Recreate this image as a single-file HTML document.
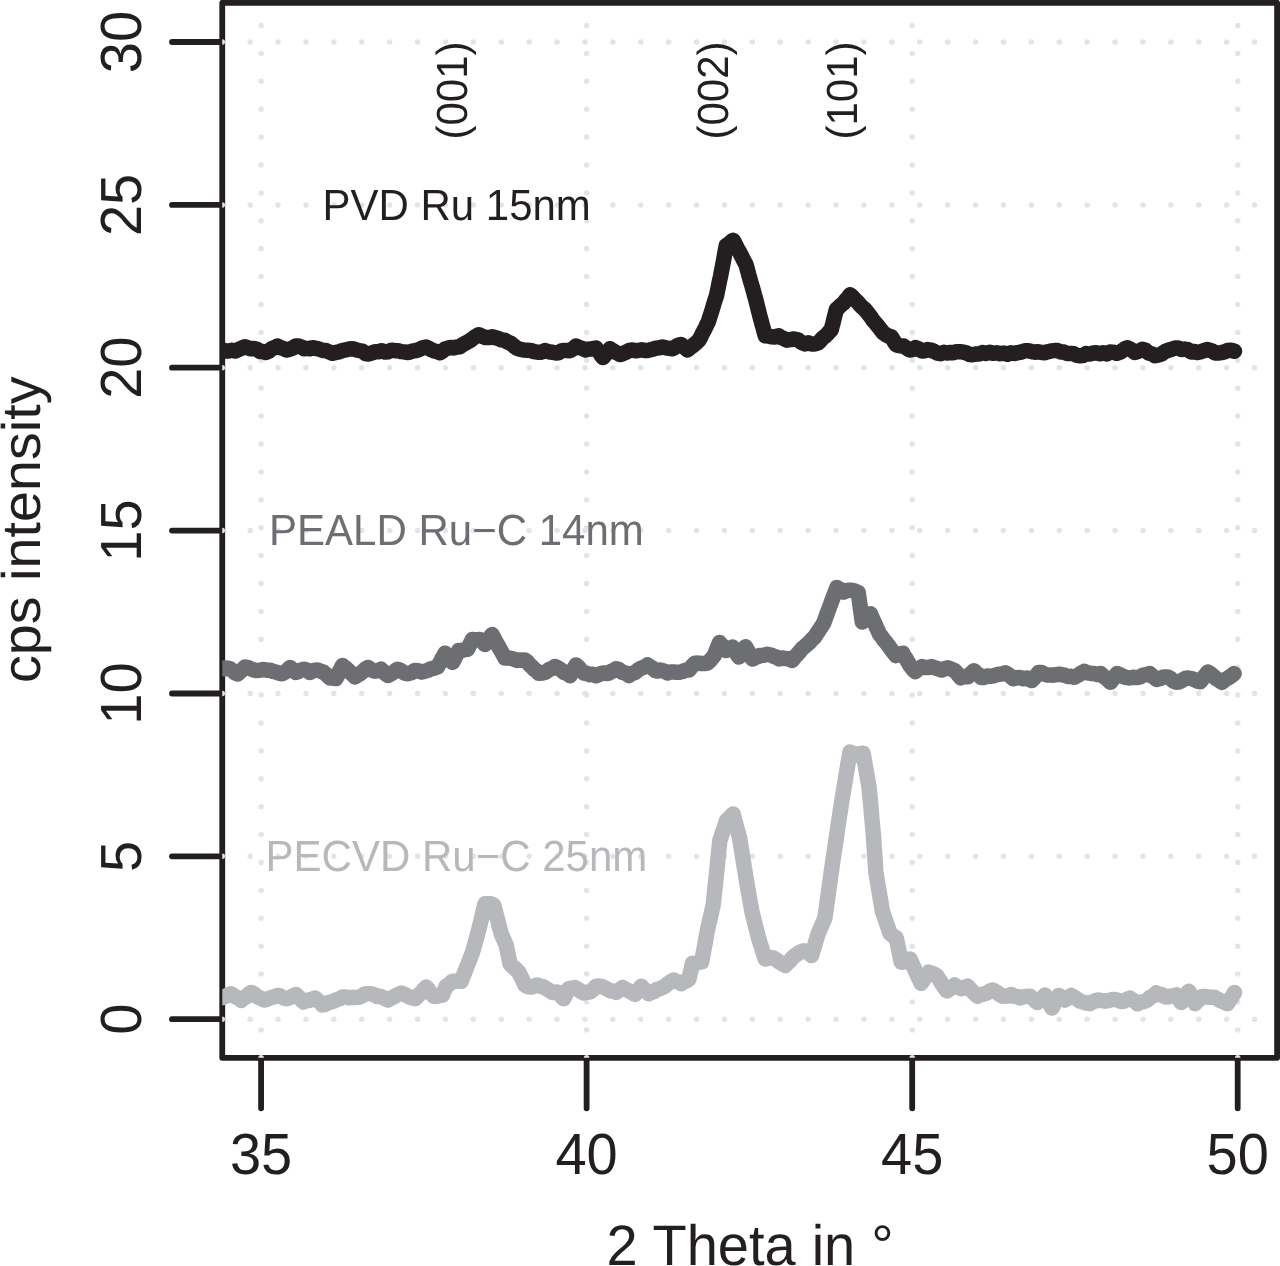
<!DOCTYPE html>
<html lang="en"><head><meta charset="utf-8"><title>XRD 2 Theta plot</title>
<style>
html,body{margin:0;padding:0;background:#fff;}
svg{display:block;}
text{font-family:"Liberation Sans",sans-serif;text-rendering:geometricPrecision;}
</style></head><body>
<svg width="1280" height="1266" viewBox="0 0 1280 1266">
<rect width="1280" height="1266" fill="#ffffff"/>
<defs><clipPath id="pc"><rect x="222.25" y="2.75" width="1054.5" height="1055.05"/></clipPath></defs>
<rect x="222.25" y="2.75" width="1054.85" height="1055.05" fill="none" stroke="#231f20" stroke-width="5.8" stroke-linejoin="round"/>
<line x1="172" y1="1019.2" x2="222.25" y2="1019.2" stroke="#231f20" stroke-width="5.8" stroke-linecap="round"/>
<line x1="172" y1="856.3" x2="222.25" y2="856.3" stroke="#231f20" stroke-width="5.8" stroke-linecap="round"/>
<line x1="172" y1="693.5" x2="222.25" y2="693.5" stroke="#231f20" stroke-width="5.8" stroke-linecap="round"/>
<line x1="172" y1="530.6" x2="222.25" y2="530.6" stroke="#231f20" stroke-width="5.8" stroke-linecap="round"/>
<line x1="172" y1="367.7" x2="222.25" y2="367.7" stroke="#231f20" stroke-width="5.8" stroke-linecap="round"/>
<line x1="172" y1="204.9" x2="222.25" y2="204.9" stroke="#231f20" stroke-width="5.8" stroke-linecap="round"/>
<line x1="172" y1="42.0" x2="222.25" y2="42.0" stroke="#231f20" stroke-width="5.8" stroke-linecap="round"/>
<line x1="261.1" y1="1057.8" x2="261.1" y2="1108.3" stroke="#231f20" stroke-width="5.8" stroke-linecap="round"/>
<line x1="586.6" y1="1057.8" x2="586.6" y2="1108.3" stroke="#231f20" stroke-width="5.8" stroke-linecap="round"/>
<line x1="912.2" y1="1057.8" x2="912.2" y2="1108.3" stroke="#231f20" stroke-width="5.8" stroke-linecap="round"/>
<line x1="1237.7" y1="1057.8" x2="1237.7" y2="1108.3" stroke="#231f20" stroke-width="5.8" stroke-linecap="round"/>
<g clip-path="url(#pc)" fill="none" stroke="#e3e4e8" stroke-width="5.5" stroke-linecap="round" stroke-dasharray="0 27.9">
<line x1="222.25" y1="1019.2" x2="1276.75" y2="1019.2"/>
<line x1="222.25" y1="856.3" x2="1276.75" y2="856.3"/>
<line x1="222.25" y1="693.5" x2="1276.75" y2="693.5"/>
<line x1="222.25" y1="530.6" x2="1276.75" y2="530.6"/>
<line x1="222.25" y1="367.7" x2="1276.75" y2="367.7"/>
<line x1="222.25" y1="204.9" x2="1276.75" y2="204.9"/>
<line x1="222.25" y1="42.0" x2="1276.75" y2="42.0"/>
<line x1="261.1" y1="1057.8" x2="261.1" y2="2.75"/>
<line x1="586.6" y1="1057.8" x2="586.6" y2="2.75"/>
<line x1="912.2" y1="1057.8" x2="912.2" y2="2.75"/>
<line x1="1237.7" y1="1057.8" x2="1237.7" y2="2.75"/>
</g>
<g clip-path="url(#pc)" fill="none" stroke-linejoin="round" stroke-linecap="round" stroke-width="15.5">
<path d="M215.0 350.0 L218.8 349.3 L222.5 350.0 L225.6 350.9 L228.8 351.0 L231.9 350.3 L235.0 351.0 L238.3 349.6 L241.7 348.1 L245.0 346.7 L248.0 347.8 L251.0 348.8 L254.0 348.5 L257.0 349.2 L260.0 351.4 L263.0 351.6 L266.0 352.5 L268.9 351.2 L271.8 348.6 L274.6 347.6 L277.5 346.0 L280.3 347.7 L283.2 348.3 L286.0 350.0 L289.3 349.4 L292.7 348.0 L296.0 346.0 L298.7 346.1 L301.3 347.0 L304.0 348.7 L306.8 348.4 L309.7 348.8 L312.5 347.7 L315.8 348.4 L319.2 349.1 L322.5 350.4 L325.8 350.6 L329.2 351.9 L332.5 353.3 L335.8 352.4 L339.2 351.8 L342.5 350.5 L345.8 349.8 L349.2 349.0 L352.5 348.7 L355.7 349.7 L359.0 350.5 L362.2 351.1 L365.5 353.5 L368.7 354.0 L371.9 352.9 L375.0 351.7 L378.3 351.8 L381.7 350.8 L385.0 352.1 L388.3 351.7 L391.7 350.2 L395.0 350.7 L398.0 350.7 L401.0 351.6 L404.0 351.9 L407.0 352.5 L410.0 352.0 L413.2 350.9 L416.4 350.5 L419.6 349.3 L422.8 347.7 L426.0 347.0 L428.8 348.3 L431.6 349.9 L434.4 351.0 L437.2 351.6 L440.0 352.7 L442.5 351.3 L445.0 349.1 L447.5 348.2 L450.6 347.4 L453.8 348.0 L456.9 346.9 L460.0 346.7 L462.7 344.6 L465.3 343.3 L468.0 341.8 L470.7 340.1 L473.4 338.0 L476.0 336.3 L478.7 334.7 L481.9 336.1 L485.0 337.5 L488.8 337.6 L492.5 336.7 L495.5 337.8 L498.5 338.6 L501.5 339.9 L504.5 340.2 L507.5 342.0 L510.6 343.2 L513.8 345.9 L516.9 348.1 L520.0 349.2 L523.5 350.0 L527.0 350.2 L530.5 350.4 L534.0 351.6 L537.5 352.2 L541.2 352.2 L545.0 350.5 L548.7 351.8 L552.3 352.2 L556.0 353.0 L558.7 352.8 L561.3 350.9 L564.0 350.5 L567.0 350.6 L570.0 350.7 L573.0 348.9 L576.0 346.0 L579.3 347.5 L582.7 348.6 L586.0 350.0 L589.3 348.9 L592.7 348.7 L596.0 348.0 L597.8 350.7 L599.5 352.4 L601.2 355.3 L603.0 357.5 L605.3 354.8 L607.7 351.9 L610.0 348.7 L612.5 350.5 L615.0 352.0 L617.5 353.1 L620.0 354.5 L623.1 353.5 L626.2 352.1 L629.4 350.4 L632.5 350.0 L635.5 350.8 L638.5 350.3 L641.5 349.8 L644.5 350.4 L647.5 350.5 L650.5 349.8 L653.5 348.9 L656.5 348.1 L659.5 347.8 L662.5 347.0 L665.8 347.8 L669.2 348.3 L672.5 348.7 L675.3 347.2 L678.2 345.2 L681.0 344.5 L683.1 346.1 L685.2 347.8 L687.3 350.0 L689.7 348.0 L692.1 346.3 L694.5 344.2 L696.9 342.2 L699.3 339.8 L700.8 336.9 L702.3 333.6 L703.8 330.8 L705.4 327.7 L706.9 324.5 L708.4 321.6 L709.4 318.2 L710.5 314.9 L711.5 311.7 L712.5 308.4 L713.5 305.0 L714.5 301.8 L715.6 298.5 L716.6 295.2 L717.2 292.1 L717.9 289.1 L718.5 286.1 L719.1 283.0 L719.7 279.9 L720.4 276.9 L721.0 273.8 L721.6 270.8 L722.2 267.6 L722.8 264.4 L723.4 261.2 L724.0 258.1 L724.5 254.9 L725.1 251.7 L725.7 248.6 L726.3 245.4 L728.6 244.2 L730.9 242.0 L733.2 240.3 L734.8 243.2 L736.4 246.4 L738.0 249.6 L739.6 252.3 L741.2 255.4 L742.8 258.5 L744.4 261.7 L746.0 264.7 L746.9 267.7 L747.7 270.8 L748.5 273.9 L749.4 276.9 L750.2 279.9 L751.1 283.1 L752.0 286.1 L752.8 289.1 L753.7 292.1 L754.5 295.2 L755.4 298.2 L756.2 301.3 L757.0 304.5 L757.8 307.8 L758.6 311.0 L759.4 314.2 L760.2 317.5 L761.1 320.5 L761.9 323.7 L762.8 326.7 L763.6 329.7 L764.4 332.8 L765.3 335.8 L768.3 336.0 L771.4 336.8 L775.0 337.1 L778.5 335.8 L781.2 337.6 L783.9 338.6 L786.6 340.2 L790.3 339.6 L794.1 339.0 L797.8 339.8 L801.3 342.4 L804.9 343.9 L808.2 342.8 L811.5 344.0 L814.8 344.0 L818.1 342.9 L820.3 340.8 L822.5 338.2 L824.7 336.6 L826.9 334.5 L829.1 332.1 L831.3 329.7 L832.1 326.3 L833.0 322.9 L833.8 319.5 L834.7 316.1 L835.5 312.8 L836.4 309.4 L838.8 307.3 L841.1 305.0 L843.5 303.3 L845.7 300.2 L848.0 297.7 L850.2 294.8 L852.6 297.0 L855.1 299.7 L857.5 301.9 L859.9 304.9 L862.4 307.3 L864.8 309.4 L866.8 311.7 L868.9 314.4 L870.9 317.0 L872.9 320.1 L875.0 322.5 L877.0 324.8 L879.0 327.3 L881.1 330.2 L883.1 332.7 L885.8 334.6 L888.6 336.1 L891.3 336.8 L893.0 339.4 L894.6 342.4 L896.3 344.9 L899.8 345.7 L903.4 345.9 L906.5 347.9 L909.5 350.0 L912.5 349.6 L915.6 347.6 L918.7 348.9 L921.7 351.0 L924.8 350.7 L927.8 349.6 L931.0 350.1 L934.3 351.5 L937.5 353.2 L940.7 353.7 L943.9 352.3 L947.1 353.0 L950.4 352.5 L953.6 352.7 L956.8 351.7 L960.0 351.7 L963.1 352.2 L966.2 352.8 L969.4 354.6 L972.5 354.7 L975.8 354.1 L979.2 354.0 L982.5 352.5 L986.0 353.4 L989.5 352.3 L993.0 353.3 L996.5 352.8 L1000.0 353.7 L1003.8 353.1 L1007.5 354.2 L1011.0 352.8 L1014.5 353.4 L1018.0 352.6 L1021.5 352.0 L1025.0 350.7 L1028.3 350.7 L1031.7 351.6 L1035.0 352.2 L1038.3 351.8 L1041.7 352.5 L1045.0 352.7 L1048.1 351.7 L1051.2 350.9 L1054.4 350.6 L1057.5 350.5 L1060.7 351.9 L1063.9 352.1 L1067.1 353.5 L1070.4 353.4 L1073.6 353.8 L1076.8 355.4 L1080.0 355.7 L1083.1 355.6 L1086.2 353.6 L1089.4 354.1 L1092.5 353.2 L1096.2 352.7 L1100.0 353.7 L1103.3 352.8 L1106.7 353.9 L1110.0 352.1 L1113.3 352.2 L1116.7 353.3 L1120.0 352.2 L1122.5 350.6 L1125.0 348.7 L1127.5 347.7 L1130.0 348.9 L1132.5 350.6 L1135.0 352.5 L1138.8 351.2 L1142.5 349.2 L1145.6 350.3 L1148.8 353.0 L1151.9 353.9 L1155.0 355.7 L1158.3 355.2 L1161.7 353.8 L1165.0 351.5 L1168.3 350.2 L1171.7 349.2 L1175.0 348.0 L1178.2 348.0 L1181.4 349.5 L1184.6 349.1 L1187.9 349.7 L1191.1 352.0 L1194.3 351.5 L1197.5 352.5 L1200.8 351.7 L1204.2 350.4 L1207.5 349.5 L1210.0 350.4 L1212.5 351.2 L1215.0 353.0 L1218.1 353.1 L1221.2 352.6 L1224.4 351.9 L1227.5 350.5 L1231.0 350.2 L1234.5 351.2" stroke="#231f20"/>
<path d="M215.0 668.0 L218.8 668.8 L222.5 668.0 L225.0 668.8 L227.5 668.0 L230.0 668.9 L232.5 670.5 L235.0 672.9 L237.5 674.0 L240.0 671.9 L242.5 669.5 L245.0 667.0 L248.7 667.9 L252.3 669.5 L256.0 670.5 L260.0 670.2 L264.0 669.5 L267.1 670.3 L270.2 670.3 L273.2 671.5 L276.3 672.1 L279.4 673.4 L282.5 673.7 L285.0 672.2 L287.5 670.0 L290.0 667.5 L293.0 670.0 L296.0 672.5 L298.7 671.3 L301.3 669.9 L304.0 669.2 L307.0 670.2 L310.0 672.5 L313.8 670.5 L317.5 670.0 L320.8 671.2 L324.0 672.5 L327.0 675.1 L330.0 678.0 L333.0 678.0 L336.0 678.5 L337.6 675.4 L339.2 672.0 L340.9 668.8 L342.5 665.5 L345.0 667.5 L347.5 669.6 L350.0 672.2 L352.5 674.3 L355.0 677.0 L357.6 675.1 L360.2 673.8 L362.8 671.5 L365.4 669.0 L368.0 667.5 L371.5 669.9 L375.0 671.2 L378.0 670.7 L381.0 669.2 L383.3 671.5 L385.7 673.8 L388.0 675.5 L391.2 673.7 L394.3 671.7 L397.5 669.2 L400.8 670.5 L404.2 672.9 L407.5 673.7 L411.2 672.8 L415.0 670.5 L418.0 670.7 L421.0 672.0 L424.3 671.4 L427.6 670.4 L430.9 668.9 L434.2 668.1 L437.5 667.0 L439.0 664.2 L440.5 661.7 L442.0 658.7 L443.5 656.1 L445.0 653.2 L446.9 655.4 L448.8 658.1 L450.6 660.5 L452.5 662.5 L454.1 659.5 L455.6 656.5 L457.1 653.7 L458.7 650.5 L461.6 650.5 L464.6 649.6 L467.5 649.2 L469.2 645.9 L470.8 642.7 L472.5 639.5 L476.2 639.9 L480.0 639.5 L482.5 641.7 L485.0 644.5 L486.8 642.2 L488.5 639.4 L490.2 637.2 L492.0 634.5 L493.6 637.4 L495.2 640.6 L496.9 643.4 L498.5 646.3 L500.1 649.2 L501.8 652.2 L503.4 655.1 L505.0 658.0 L508.0 658.1 L511.0 658.3 L514.0 659.2 L517.0 660.4 L520.0 660.0 L522.5 660.2 L525.0 660.0 L527.3 661.8 L529.6 664.7 L531.9 666.8 L534.1 669.2 L536.4 670.7 L538.7 673.2 L542.4 673.0 L546.0 672.0 L549.0 669.6 L552.0 668.5 L555.0 666.5 L558.0 668.0 L561.0 669.8 L564.0 672.5 L567.0 673.3 L570.0 675.7 L571.5 673.0 L573.0 670.5 L574.5 667.6 L576.0 665.0 L578.7 667.4 L581.3 670.7 L584.0 673.0 L587.0 673.5 L590.0 674.7 L593.0 674.2 L596.0 675.7 L598.7 674.6 L601.3 673.4 L604.0 673.0 L606.5 673.4 L609.0 673.2 L611.3 671.2 L613.7 670.8 L616.0 668.7 L619.2 669.7 L622.5 672.4 L625.8 673.1 L629.0 675.5 L632.1 673.4 L635.2 672.4 L638.2 669.8 L641.3 668.1 L644.4 667.0 L647.5 665.0 L650.0 666.7 L652.5 668.1 L655.0 670.5 L657.5 671.1 L660.0 670.0 L663.8 671.0 L667.5 673.0 L670.5 671.9 L673.5 672.1 L676.5 672.3 L679.5 672.2 L682.5 671.5 L685.8 670.1 L689.0 670.0 L691.0 667.6 L693.0 665.1 L695.0 663.2 L698.1 663.1 L701.2 663.6 L704.4 663.5 L707.5 663.0 L709.7 661.0 L711.8 658.5 L714.0 656.0 L715.4 652.7 L716.8 649.3 L718.1 645.9 L719.5 642.5 L721.7 645.0 L723.8 647.9 L726.0 650.5 L729.2 648.5 L732.5 647.0 L734.1 649.3 L735.8 652.0 L737.4 654.7 L739.0 657.0 L740.6 654.2 L742.2 651.9 L743.9 649.2 L745.5 646.7 L747.2 649.8 L749.0 652.7 L750.8 656.1 L752.5 659.0 L755.0 657.5 L757.5 656.8 L760.0 655.5 L763.7 655.2 L767.3 654.3 L771.0 655.0 L773.7 656.4 L776.3 657.1 L779.0 659.0 L782.0 658.0 L785.0 658.5 L788.6 658.7 L792.2 660.5 L794.2 657.8 L796.2 655.4 L798.3 653.3 L800.3 650.8 L802.3 648.4 L804.7 646.6 L807.2 644.3 L809.6 642.2 L812.1 639.2 L814.5 637.2 L816.3 634.3 L818.2 631.4 L820.0 628.7 L821.9 625.9 L823.7 623.0 L824.9 619.8 L826.1 616.6 L827.2 613.3 L828.4 610.1 L829.6 606.9 L830.8 603.7 L832.0 600.3 L833.2 597.1 L834.5 593.9 L835.7 590.6 L836.9 587.4 L839.3 589.2 L841.6 590.2 L844.0 592.1 L847.0 590.4 L850.1 590.1 L852.8 590.4 L855.5 591.3 L858.2 592.5 L858.7 595.8 L859.1 599.1 L859.6 602.3 L860.0 605.6 L860.5 608.9 L860.9 612.2 L861.4 615.5 L861.8 618.7 L862.3 622.0 L865.0 619.5 L867.7 616.5 L870.4 613.8 L871.7 616.7 L873.0 619.6 L874.3 622.4 L875.6 625.4 L876.9 628.3 L878.2 631.1 L879.5 634.1 L881.5 636.5 L883.6 639.6 L885.6 641.9 L887.7 644.7 L889.7 647.3 L891.7 650.3 L893.8 652.8 L895.8 655.5 L899.3 654.1 L902.9 653.4 L904.7 656.7 L906.5 659.4 L908.2 662.3 L910.0 665.6 L912.5 668.8 L915.1 671.7 L917.5 669.5 L919.8 668.1 L922.2 666.6 L925.2 667.5 L928.3 667.5 L931.4 666.6 L934.4 667.7 L938.0 668.8 L941.5 670.1 L944.5 668.8 L947.6 667.7 L951.2 669.2 L954.7 670.7 L956.7 672.8 L958.8 675.5 L960.8 677.8 L964.3 676.5 L967.9 676.8 L969.9 674.6 L972.0 672.6 L974.0 670.7 L976.4 673.3 L978.7 674.8 L981.1 677.4 L984.1 677.5 L987.2 676.1 L990.2 676.3 L993.3 675.8 L996.3 674.8 L999.4 674.2 L1002.5 673.9 L1005.5 672.7 L1008.1 674.6 L1010.7 676.3 L1013.3 678.7 L1016.7 677.8 L1020.1 677.6 L1023.6 678.8 L1027.0 678.0 L1029.5 679.5 L1031.9 680.5 L1034.1 678.2 L1036.4 675.4 L1038.6 672.6 L1041.5 672.4 L1044.4 674.1 L1047.4 675.0 L1050.3 675.1 L1053.2 675.2 L1056.2 674.6 L1059.1 674.3 L1062.2 674.7 L1065.2 675.4 L1068.3 676.6 L1071.3 676.3 L1074.4 677.3 L1077.7 675.4 L1080.9 673.3 L1084.2 671.4 L1087.5 672.9 L1090.8 673.4 L1094.1 673.6 L1097.3 674.4 L1100.6 673.6 L1103.1 676.1 L1105.5 677.7 L1108.0 679.9 L1110.5 682.3 L1112.7 679.4 L1114.8 676.3 L1117.0 673.6 L1119.9 674.7 L1122.9 676.3 L1125.8 677.3 L1129.3 678.0 L1132.9 677.3 L1136.5 677.6 L1140.0 676.9 L1143.3 675.1 L1146.6 674.5 L1149.9 673.6 L1152.1 676.1 L1154.2 677.2 L1156.4 679.5 L1160.1 678.5 L1163.7 677.0 L1167.4 676.9 L1170.3 678.2 L1173.2 681.0 L1176.1 682.3 L1179.1 682.0 L1182.1 680.4 L1185.1 678.5 L1188.1 678.0 L1191.1 678.6 L1194.2 679.4 L1197.2 681.1 L1200.2 681.7 L1202.1 679.4 L1204.0 676.9 L1205.9 674.5 L1207.8 672.1 L1210.7 673.7 L1213.5 676.2 L1216.4 678.8 L1219.2 680.6 L1222.1 682.3 L1225.1 679.6 L1228.1 678.0 L1231.1 676.0 L1234.1 673.6" stroke="#6d6e71"/>
<path d="M215.0 998.0 L218.8 997.3 L222.5 997.5 L225.4 996.3 L228.3 994.8 L231.2 993.7 L233.7 995.5 L236.2 997.3 L238.7 998.3 L241.2 1000.5 L243.7 998.0 L246.2 996.9 L248.7 994.2 L251.2 992.5 L254.3 994.0 L257.4 996.9 L260.6 998.1 L263.7 1000.0 L267.1 999.4 L270.6 997.7 L274.1 996.9 L277.5 995.5 L280.4 996.0 L283.3 997.8 L286.2 998.7 L289.5 997.9 L292.9 995.9 L296.2 994.5 L298.7 997.2 L301.2 999.7 L303.7 1002.0 L306.5 1000.3 L309.4 1000.4 L312.2 999.1 L315.0 998.0 L317.5 1000.1 L320.0 1002.2 L322.5 1005.0 L325.4 1004.4 L328.2 1002.7 L331.1 1001.9 L333.9 1001.0 L336.8 999.6 L339.6 998.8 L342.5 997.0 L345.6 996.9 L348.8 997.8 L351.9 997.3 L355.0 997.5 L358.2 997.3 L361.5 996.2 L364.8 994.0 L368.0 993.7 L371.0 993.7 L374.0 994.5 L377.0 996.4 L380.0 996.2 L382.7 997.4 L385.3 998.9 L388.0 1000.0 L390.6 998.3 L393.3 997.2 L395.9 995.6 L398.6 994.2 L401.2 993.0 L404.0 994.3 L406.7 995.4 L409.5 997.0 L412.2 997.8 L415.0 998.7 L417.2 996.7 L419.5 994.3 L421.7 992.1 L424.0 989.5 L426.2 987.0 L428.1 989.1 L429.9 991.9 L431.8 994.2 L433.7 996.2 L436.6 996.5 L439.6 995.5 L442.5 995.0 L443.7 992.1 L445.0 989.1 L446.2 986.2 L449.4 984.1 L452.5 981.2 L455.4 981.3 L458.3 980.8 L461.2 981.2 L462.5 977.9 L463.7 974.9 L465.0 971.8 L466.2 968.3 L467.5 965.3 L468.7 962.0 L470.0 958.8 L471.2 955.6 L472.5 952.5 L473.4 949.3 L474.3 946.1 L475.2 942.8 L476.0 939.7 L476.9 936.4 L477.8 933.2 L478.7 930.0 L479.5 926.7 L480.3 923.5 L481.1 920.2 L481.9 916.9 L482.6 913.6 L483.4 910.3 L484.2 906.9 L485.0 903.7 L487.9 904.3 L490.8 903.7 L493.7 905.0 L494.5 908.2 L495.4 911.4 L496.2 914.6 L497.0 917.7 L497.9 920.9 L498.7 924.2 L499.5 927.3 L500.4 930.6 L501.2 933.7 L502.4 936.6 L503.7 939.3 L504.9 942.2 L506.2 945.0 L506.8 948.1 L507.5 951.2 L508.1 954.4 L508.7 957.5 L509.4 960.6 L510.0 963.7 L512.2 966.2 L514.4 967.9 L516.5 969.9 L518.7 972.0 L520.3 975.3 L521.9 978.4 L523.4 981.7 L525.0 985.0 L528.1 986.8 L531.2 987.0 L534.4 986.0 L537.5 985.0 L540.4 986.3 L543.3 986.7 L546.2 988.7 L549.4 990.5 L552.5 992.5 L555.0 992.4 L557.5 992.0 L559.6 993.8 L561.6 996.6 L563.7 998.7 L565.4 995.4 L567.0 991.9 L568.7 988.7 L571.9 988.3 L575.0 987.5 L577.9 989.3 L580.8 991.4 L583.7 993.0 L586.9 992.2 L590.0 992.0 L592.1 990.3 L594.1 988.4 L596.2 986.2 L599.1 986.0 L602.1 986.6 L605.0 988.0 L607.8 989.4 L610.6 991.0 L613.4 991.0 L616.2 992.5 L619.4 990.0 L622.5 987.5 L625.6 989.4 L628.8 990.8 L631.9 992.6 L635.0 994.5 L637.1 991.6 L639.1 988.9 L641.2 986.2 L643.7 988.8 L646.2 991.0 L648.7 993.7 L651.5 992.3 L654.2 991.6 L657.0 989.3 L659.7 988.8 L662.5 987.5 L665.3 985.9 L668.1 983.5 L670.9 981.5 L673.7 980.0 L676.2 981.7 L678.7 982.1 L681.2 983.7 L683.7 981.9 L686.2 980.8 L688.7 979.5 L689.5 976.3 L690.2 973.1 L691.0 969.9 L691.7 966.7 L692.5 963.5 L695.6 963.5 L698.6 962.3 L701.7 961.8 L702.3 958.6 L702.9 955.4 L703.4 952.3 L704.0 949.1 L704.6 945.9 L705.2 942.7 L705.8 939.5 L706.3 936.3 L706.9 933.2 L707.5 930.0 L708.2 926.8 L708.9 923.7 L709.6 920.5 L710.4 917.3 L711.1 914.2 L711.8 911.1 L712.5 907.9 L713.2 904.7 L713.6 901.3 L713.9 897.8 L714.3 894.4 L714.7 891.0 L715.0 887.5 L715.4 884.1 L715.8 880.7 L716.1 877.2 L716.5 873.8 L716.8 870.5 L717.2 867.2 L717.5 863.8 L717.8 860.5 L718.1 857.2 L718.5 853.9 L718.8 850.6 L719.1 847.2 L719.5 843.9 L719.8 840.6 L720.9 837.4 L722.0 834.0 L723.1 830.6 L724.3 827.4 L725.4 824.1 L726.5 820.7 L728.7 818.6 L730.9 816.3 L733.1 814.1 L733.9 817.1 L734.8 820.2 L735.6 823.2 L736.4 826.2 L737.2 829.3 L738.1 832.3 L738.9 835.4 L739.7 838.4 L740.2 841.6 L740.7 844.9 L741.2 848.1 L741.8 851.3 L742.3 854.6 L742.8 857.8 L743.3 861.0 L743.8 864.2 L744.3 867.5 L744.9 870.7 L745.4 873.9 L745.9 877.2 L746.4 880.4 L746.9 883.5 L747.5 886.6 L748.0 889.7 L748.6 892.8 L749.1 895.9 L749.7 899.0 L750.2 902.1 L750.8 905.2 L751.4 908.3 L751.9 911.4 L752.7 914.7 L753.5 918.0 L754.4 921.3 L755.2 924.7 L756.0 927.9 L756.9 931.3 L757.7 934.6 L758.5 937.9 L759.5 941.0 L760.4 944.0 L761.4 946.8 L762.3 949.9 L763.3 953.0 L764.2 955.8 L765.2 958.9 L769.0 957.9 L772.9 957.8 L776.0 959.5 L779.0 961.7 L782.0 963.6 L785.1 965.6 L787.6 963.1 L790.0 960.8 L792.5 957.7 L795.0 955.6 L798.0 953.4 L800.9 951.8 L803.9 950.7 L806.5 951.9 L809.0 953.4 L811.6 955.6 L812.5 952.5 L813.5 949.3 L814.4 946.1 L815.4 943.0 L816.3 939.8 L817.3 936.6 L818.2 933.5 L819.5 930.4 L820.9 927.3 L822.2 924.2 L823.6 921.1 L824.9 918.0 L825.4 914.7 L825.8 911.5 L826.3 908.2 L826.7 905.0 L827.2 901.7 L827.6 898.5 L828.1 895.2 L828.5 892.0 L829.0 888.7 L829.4 885.5 L829.9 882.2 L830.3 879.0 L830.8 875.7 L831.2 872.5 L831.7 869.2 L832.1 865.9 L832.6 862.7 L833.1 859.4 L833.6 856.1 L834.1 852.7 L834.6 849.4 L835.1 846.1 L835.6 842.8 L836.1 839.5 L836.6 836.2 L837.0 832.8 L837.5 829.5 L838.0 826.2 L838.5 822.9 L839.0 819.6 L839.5 816.3 L840.0 813.0 L840.5 809.6 L841.0 806.3 L841.5 803.0 L842.0 799.8 L842.5 796.6 L843.1 793.5 L843.6 790.3 L844.1 787.1 L844.6 783.9 L845.2 780.7 L845.7 777.6 L846.2 774.4 L846.8 771.2 L847.3 768.0 L847.8 764.8 L848.3 761.6 L848.9 758.5 L849.4 755.3 L849.9 752.1 L852.8 753.2 L855.8 755.4 L859.5 753.6 L863.1 753.2 L863.6 756.3 L864.2 759.4 L864.7 762.5 L865.3 765.7 L865.8 768.8 L866.4 771.9 L866.9 775.0 L867.5 778.2 L868.0 781.3 L868.6 784.4 L869.1 787.5 L869.4 790.8 L869.7 794.0 L870.0 797.2 L870.3 800.5 L870.6 803.7 L870.9 807.0 L871.2 810.2 L871.4 813.5 L871.7 816.7 L872.0 820.0 L872.3 823.2 L872.6 826.5 L872.9 829.7 L873.2 832.9 L873.5 836.2 L873.7 839.4 L873.9 842.6 L874.1 845.9 L874.3 849.1 L874.5 852.3 L874.8 855.5 L875.0 858.7 L875.2 861.9 L875.4 865.2 L875.6 868.4 L875.8 871.6 L876.3 874.9 L876.9 878.2 L877.4 881.6 L878.0 884.9 L878.5 888.2 L879.1 891.5 L879.6 894.8 L880.2 898.1 L880.8 901.4 L881.3 904.8 L881.9 908.1 L882.4 911.4 L883.5 914.5 L884.6 917.6 L885.7 920.9 L886.8 924.1 L887.9 927.2 L889.0 930.3 L890.1 933.5 L893.2 936.0 L896.3 937.9 L896.9 940.9 L897.5 944.0 L898.1 947.0 L898.8 950.1 L899.4 953.1 L900.0 956.1 L900.6 959.2 L901.2 962.2 L904.1 961.8 L907.1 959.7 L910.0 958.9 L911.4 962.0 L912.8 965.0 L914.2 968.2 L915.5 971.1 L916.9 974.1 L918.3 977.1 L919.7 980.1 L921.1 983.3 L923.0 980.5 L925.0 977.7 L926.9 974.8 L928.8 972.2 L931.4 973.1 L934.0 974.1 L936.6 975.5 L938.3 978.2 L940.0 980.5 L941.7 983.5 L943.4 985.8 L945.1 988.5 L946.8 991.0 L949.4 989.0 L952.1 987.4 L954.7 985.0 L958.0 987.3 L961.2 988.7 L964.4 987.5 L967.5 986.2 L970.0 988.7 L972.5 991.4 L975.0 994.0 L977.5 996.2 L980.5 994.8 L983.5 994.1 L986.5 993.2 L989.5 991.2 L992.5 990.0 L995.0 991.2 L997.5 992.8 L1000.0 994.9 L1002.5 996.2 L1005.4 995.9 L1008.3 995.9 L1011.2 994.5 L1014.1 996.2 L1017.1 996.4 L1020.0 998.0 L1023.3 996.9 L1026.7 996.4 L1030.0 996.2 L1032.5 998.0 L1035.0 1000.6 L1037.5 1002.5 L1040.0 1000.3 L1042.5 997.9 L1045.0 995.0 L1046.8 998.2 L1048.5 1001.6 L1050.2 1004.7 L1052.0 1008.0 L1053.7 1004.8 L1055.3 1001.8 L1057.0 998.5 L1058.7 995.5 L1061.8 997.3 L1065.0 1000.0 L1068.1 998.1 L1071.2 995.5 L1074.1 997.1 L1077.1 999.1 L1080.0 1001.2 L1083.3 1002.2 L1086.7 1003.2 L1090.0 1003.7 L1092.5 1001.8 L1095.0 1001.0 L1097.5 1000.0 L1101.2 1000.5 L1105.0 1001.2 L1108.3 1000.6 L1111.7 999.6 L1115.0 999.5 L1117.9 1000.2 L1120.8 1001.4 L1123.7 1001.2 L1126.8 999.4 L1130.0 998.0 L1132.5 1000.0 L1135.0 1001.4 L1137.5 1003.7 L1140.8 1002.1 L1144.2 1001.5 L1147.5 1000.0 L1150.4 997.2 L1153.3 995.8 L1156.2 993.0 L1159.0 994.7 L1161.8 994.4 L1164.7 996.7 L1167.5 997.0 L1170.4 996.1 L1173.3 996.1 L1176.2 995.0 L1177.9 997.6 L1179.5 999.9 L1181.2 1002.5 L1183.1 999.8 L1185.0 996.9 L1186.8 994.2 L1188.7 991.2 L1190.3 994.2 L1191.8 997.5 L1193.4 1000.7 L1195.0 1003.7 L1197.1 1001.6 L1199.1 999.3 L1201.2 997.0 L1204.7 996.4 L1208.1 997.2 L1211.5 997.1 L1215.0 997.5 L1218.1 999.4 L1221.2 1000.9 L1224.4 1002.2 L1227.5 1003.7 L1229.2 1000.7 L1231.0 998.2 L1232.8 995.4 L1234.5 992.5" stroke="#b7b8bb"/>
</g>
<g fill="#231f20" font-size="56">
<text transform="translate(261.1 1173.6) scale(1 1.036)" text-anchor="middle">35</text>
<text transform="translate(586.6 1173.6) scale(1 1.036)" text-anchor="middle">40</text>
<text transform="translate(912.2 1173.6) scale(1 1.036)" text-anchor="middle">45</text>
<text transform="translate(1237.7 1173.6) scale(1 1.036)" text-anchor="middle">50</text>
<text transform="translate(141.4 1019.2) rotate(-90) scale(1 1.036)" text-anchor="middle">0</text>
<text transform="translate(141.4 856.3) rotate(-90) scale(1 1.036)" text-anchor="middle">5</text>
<text transform="translate(141.4 693.5) rotate(-90) scale(1 1.036)" text-anchor="middle">10</text>
<text transform="translate(141.4 530.6) rotate(-90) scale(1 1.036)" text-anchor="middle">15</text>
<text transform="translate(141.4 367.7) rotate(-90) scale(1 1.036)" text-anchor="middle">20</text>
<text transform="translate(141.4 204.9) rotate(-90) scale(1 1.036)" text-anchor="middle">25</text>
<text transform="translate(141.4 42.0) rotate(-90) scale(1 1.036)" text-anchor="middle">30</text>
<text transform="translate(750 1264.6) scale(1 1.02)" text-anchor="middle" word-spacing="0.4">2 Theta in °</text>
<text transform="translate(40.4 529.8) rotate(-90) scale(0.995 0.97)" text-anchor="middle">cps intensity</text>
</g>
<g font-size="42">
<text transform="translate(467.3 90.5) rotate(-90) scale(1 1.036)" text-anchor="middle" fill="#231f20">(001)</text>
<text transform="translate(727.7 90.5) rotate(-90) scale(1 1.036)" text-anchor="middle" fill="#231f20">(002)</text>
<text transform="translate(857.3 90.5) rotate(-90) scale(1 1.036)" text-anchor="middle" fill="#231f20">(101)</text>
<text transform="translate(456.6 220) scale(1 1.036)" text-anchor="middle" fill="#231f20">PVD Ru 15nm</text>
<text transform="translate(456.4 545.2) scale(1 1.036)" text-anchor="middle" fill="#6d6e71">PEALD Ru−C 14nm</text>
<text transform="translate(456.4 870.8) scale(1 1.036)" text-anchor="middle" fill="#b7b8bb">PECVD Ru−C 25nm</text>
</g>
</svg>
</body></html>
